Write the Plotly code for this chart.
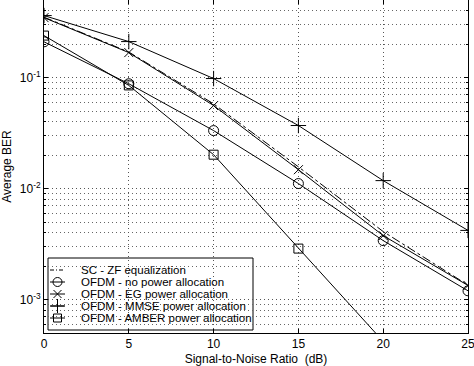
import numpy as np
import plotly.graph_objects as go

# ---------------- data ----------------
snr_db = [0, 5, 10, 15, 20, 25]
ber_sc_zf = [0.35, 0.170, 0.058, 0.0157, 0.0041, 0.00135]
ber_ofdm_none = [0.210, 0.088, 0.0333, 0.0111, 0.0034, 0.00120]
ber_ofdm_eg = [0.347, 0.168, 0.056, 0.0148, 0.00377, 0.00134]
ber_ofdm_mmse = [0.362, 0.211, 0.098, 0.037, 0.0118, 0.0042]
snr_amber = [0, 5, 10, 15, 20]
ber_ofdm_amber = [0.239, 0.085, 0.0202, 0.00288, 0.00042]

series_names = [
    "SC - ZF equalization",
    "OFDM - no power allocation",
    "OFDM - EG power allocation",
    "OFDM - MMSE power allocation",
    "OFDM - AMBER power allocation",
]
x_tick_vals = [0, 5, 10, 15, 20, 25]
y_tick_vals = [1e-3, 1e-2, 1e-1]
y_tick_text = ["10<sup>-3</sup>", "10<sup>-2</sup>", "10<sup>-1</sup>"]

# ---------------- styles ----------------
FONT = "Liberation Sans, Arial, Helvetica, sans-serif"
GRID_DASH = "1px,3px"
styles = [
    dict(dash="dashdot", symbol=None, msize=0),
    dict(dash="solid", symbol="circle-open", msize=10),
    dict(dash="solid", symbol="x-thin-open", msize=9),
    dict(dash="solid", symbol="cross-thin-open", msize=11),
    dict(dash="solid", symbol="square-open", msize=9),
]
xs_all = [snr_db, snr_db, snr_db, snr_db, snr_amber]
ys_all = [ber_sc_zf, ber_ofdm_none, ber_ofdm_eg, ber_ofdm_mmse, ber_ofdm_amber]

fig = go.Figure()
for name, xs, ys, st in zip(series_names, xs_all, ys_all, styles):
    kw = dict(mode="lines")
    if st["symbol"]:
        kw = dict(mode="lines+markers",
                  marker=dict(symbol=st["symbol"], size=st["msize"], color="black",
                              line=dict(color="black", width=1)))
    fig.add_trace(go.Scatter(x=xs, y=ys, name=name, line=dict(color="black", width=1, dash=st["dash"]),
                             cliponaxis=True, **kw))

# ---------------- manual legend (pixel layout) ----------------
L, R, T, B = 44, 468, 0, 333   # plot area in pixels
W, H = 474, 366
def px(x):
    return (x - L) / (R - L)
def py(y):
    return (B - y) / (B - T)

leg_box = (48, 258, 253, 330)
row_y = [270, 282, 294, 306, 318]
for i, (name, st) in enumerate(zip(series_names, styles)):
    yy = py(row_y[i])
    fig.add_trace(go.Scatter(x=[px(50), px(65)], y=[yy, yy], xaxis="x2", yaxis="y2",
                             mode="lines", line=dict(color="black", width=1,
                                                     dash=("4px,2px,1px,2px" if st["dash"] == "dashdot" else st["dash"])),
                             showlegend=False, hoverinfo="skip"))
    if st["symbol"]:
        fig.add_trace(go.Scatter(x=[px(57.5)], y=[yy], xaxis="x2", yaxis="y2", mode="markers",
                                 marker=dict(symbol=st["symbol"], size=st["msize"] - 1, color="black",
                                             line=dict(color="black", width=1)),
                                 showlegend=False, hoverinfo="skip"))
    fig.add_annotation(x=px(79), y=yy, xref="paper", yref="paper", text=name, showarrow=False,
                       xanchor="left", yanchor="middle", font=dict(family=FONT, size=11.5, color="black"))

fig.add_shape(type="rect", xref="paper", yref="paper",
              x0=px(leg_box[0]), x1=px(leg_box[2]), y0=py(leg_box[3]), y1=py(leg_box[1]),
              line=dict(color="black", width=1), fillcolor="white", layer="between")

minor_vals = [k * 10.0 ** e for e in range(-4, 0) for k in range(2, 10)]

fig.update_layout(
    width=W, height=H,
    margin=dict(l=L, r=W - R, t=T, b=H - B),
    paper_bgcolor="white", plot_bgcolor="white",
    showlegend=False,
    font=dict(family=FONT, size=12, color="black"),
    xaxis=dict(range=[0, 25], tickvals=x_tick_vals, ticks="inside", ticklen=4, tickcolor="black",
               showline=True, linecolor="black", linewidth=1, mirror="ticks",
               showgrid=True, gridcolor="#555", griddash=GRID_DASH, gridwidth=1, zeroline=False,
               title=dict(text="Signal-to-Noise Ratio  (dB)", font=dict(size=12), standoff=4),
               tickfont=dict(size=12), automargin=False, ticklabeloverflow="allow"),
    yaxis=dict(type="log", range=[np.log10(5e-4), np.log10(0.5)], tickvals=y_tick_vals, ticktext=y_tick_text,
               ticks="inside", ticklen=4, tickcolor="black",
               showline=True, linecolor="black", linewidth=1, mirror="ticks",
               showgrid=True, gridcolor="#555", griddash=GRID_DASH, gridwidth=1, zeroline=False,
               minor=dict(tickvals=minor_vals, ticks="inside", ticklen=2, tickcolor="black",
                          showgrid=True, gridcolor="#666", griddash=GRID_DASH, gridwidth=1),
               title=dict(text="Average BER", font=dict(size=12), standoff=8),
               tickfont=dict(size=12), automargin=False, ticklabeloverflow="allow"),
    xaxis2=dict(range=[0, 1], overlaying="x", visible=False, fixedrange=True),
    yaxis2=dict(range=[0, 1], overlaying="y", visible=False, fixedrange=True),
)

fig.write_html("out.html", config={"displayModeBar": False},
               post_script="document.body.style.margin='0';document.body.style.overflow='hidden';")
